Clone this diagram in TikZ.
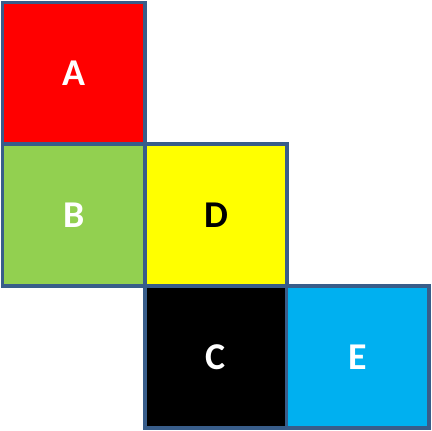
\documentclass[tikz,border=0pt]{standalone}
\usepackage{fontspec}
\setmainfont{Carlito}
\definecolor{bord}{HTML}{385D8A}
\definecolor{cred}{HTML}{FF0000}
\definecolor{cgreen}{HTML}{92D050}
\definecolor{cyellow}{HTML}{FFFF00}
\definecolor{cblue}{HTML}{00B0F0}
\begin{document}
\begin{tikzpicture}[x=1bp,y=-1bp,
  sq/.style={draw=bord,line width=3.5bp,minimum width=142bp,minimum height=142bp,inner sep=0pt,
    font=\fontsize{38}{42}\selectfont\bfseries,text=white}]
\useasboundingbox (0,0) rectangle (432,431);
\node[sq,fill=cred] (A) at (73.75,73.25) {A};
\node[sq,fill=cgreen] (B) at (73.75,215) {B};
\node[sq,fill=cyellow,text=black] (D) at (216,215) {D};
\node[sq,fill=black] (C) at (216,357) {C};
\node[sq,fill=cblue] (E) at (357.75,357) {E};
\end{tikzpicture}
\end{document}
